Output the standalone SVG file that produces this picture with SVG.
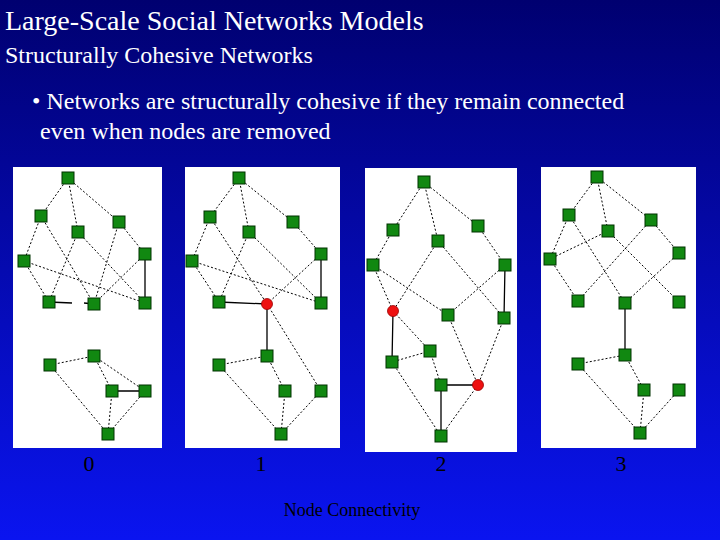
<svg xmlns="http://www.w3.org/2000/svg" width="720" height="540" viewBox="0 0 720 540">
<defs>
<linearGradient id="bg" x1="0" y1="0" x2="0" y2="1"><stop offset="0" stop-color="#000070"/><stop offset="1" stop-color="#0a14f0"/></linearGradient>
<style>
.t{font-family:"Liberation Serif",serif;fill:#fff}
.k{font-family:"Liberation Serif",serif;fill:#000}
.p{fill:#fff}
.d{stroke:#000;stroke-width:1;stroke-dasharray:2,2;fill:none}
.s{stroke:#000;stroke-width:1.3;fill:none}
.n{fill:#118811;stroke:#003300;stroke-width:1}
.r{fill:#ee1111;stroke:#990000;stroke-width:0.8}
</style>
</defs>
<rect width="720" height="540" fill="url(#bg)"/>
<text class="t" x="5" y="30" font-size="28">Large-Scale Social Networks Models</text>
<text class="t" x="5" y="63" font-size="24">Structurally Cohesive Networks</text>
<text class="t" x="32" y="109" font-size="24">• Networks are structurally cohesive if they remain connected</text>
<text class="t" x="40" y="139" font-size="24">even when nodes are removed</text>
<rect class="p" x="13" y="167" width="149" height="281"/>
<rect class="p" x="185" y="167" width="155" height="281"/>
<rect class="p" x="365" y="168" width="152" height="284"/>
<rect class="p" x="541" y="167" width="155" height="281"/>
<g id="connectors">
<path class="d" d="M68 178L41 216M68 178L78 232M68 178L119 222M41 216L24 261M41 216L94 304M78 232L49 302M78 232L145 303M119 222L145 254M119 222L94 304M24 261L49 302M24 261L145 303M145 254L94 304M50 365L94 356M50 365L108 434M94 356L112 391M94 356L145 391M112 391L108 434M145 391L108 434"/>
<path class="s" d="M145 254L145 303M49 302L72 303M84 303L94 304M112 391L145 391"/>
<path class="d" d="M239 178L210 217M239 178L249 232M239 178L293 222M210 217L192 261M210 217L267 304M249 232L219 302M249 232L321 303M293 222L321 254M192 261L219 302M192 261L321 303M321 254L267 304M267 304L321 391M219 365L267 356M219 365L281 434M267 356L285 391M285 391L281 434M321 391L281 434"/>
<path class="s" d="M321 254L321 303M219 302L267 304M267 304L267 356"/>
<path class="d" d="M424 182L393 230M424 182L438 241M424 182L478 226M393 230L373 265M373 265L393 311M373 265L448 315M438 241L393 311M438 241L504 318M478 226L505 265M505 265L448 315M393 311L430 351M430 351L392 362M430 351L441 385M392 362L441 436M448 315L478 385M504 318L478 385M478 385L441 436"/>
<path class="s" d="M505 265L504 318M393 311L392 362M441 385L478 385M441 385L441 436"/>
<path class="d" d="M597 177L569 215M597 177L608 231M597 177L651 220M569 215L550 259M569 215L625 303M608 231L550 259M608 231L679 302M651 220L679 253M651 220L578 301M550 259L578 301M679 253L625 303M578 364L625 355M578 364L640 433M625 355L644 390M644 390L640 433M679 390L640 433"/>
<path class="s" d="M625 303L625 355"/>
</g>
<g id="nodes-0">
<rect class="n" x="62" y="172" width="12" height="12"/><rect class="n" x="35" y="210" width="12" height="12"/><rect class="n" x="72" y="226" width="12" height="12"/><rect class="n" x="113" y="216" width="12" height="12"/><rect class="n" x="18" y="255" width="12" height="12"/><rect class="n" x="139" y="248" width="12" height="12"/><rect class="n" x="43" y="296" width="12" height="12"/><rect class="n" x="88" y="298" width="12" height="12"/><rect class="n" x="139" y="297" width="12" height="12"/>
<rect class="n" x="44" y="359" width="12" height="12"/><rect class="n" x="88" y="350" width="12" height="12"/><rect class="n" x="106" y="385" width="12" height="12"/><rect class="n" x="139" y="385" width="12" height="12"/><rect class="n" x="102" y="428" width="12" height="12"/>
</g>
<g id="nodes-1">
<rect class="n" x="233" y="172" width="12" height="12"/><rect class="n" x="204" y="211" width="12" height="12"/><rect class="n" x="243" y="226" width="12" height="12"/><rect class="n" x="287" y="216" width="12" height="12"/><rect class="n" x="186" y="255" width="12" height="12"/><rect class="n" x="315" y="248" width="12" height="12"/><rect class="n" x="213" y="296" width="12" height="12"/><rect class="n" x="315" y="297" width="12" height="12"/>
<circle class="r" cx="267" cy="304" r="5.5"/>
<rect class="n" x="213" y="359" width="12" height="12"/><rect class="n" x="261" y="350" width="12" height="12"/><rect class="n" x="279" y="385" width="12" height="12"/><rect class="n" x="315" y="385" width="12" height="12"/><rect class="n" x="275" y="428" width="12" height="12"/>
</g>
<g id="nodes-2">
<rect class="n" x="418" y="176" width="12" height="12"/><rect class="n" x="387" y="224" width="12" height="12"/><rect class="n" x="432" y="235" width="12" height="12"/><rect class="n" x="472" y="220" width="12" height="12"/><rect class="n" x="367" y="259" width="12" height="12"/><rect class="n" x="499" y="259" width="12" height="12"/><rect class="n" x="442" y="309" width="12" height="12"/><rect class="n" x="498" y="312" width="12" height="12"/><rect class="n" x="424" y="345" width="12" height="12"/><rect class="n" x="386" y="356" width="12" height="12"/><rect class="n" x="435" y="379" width="12" height="12"/><rect class="n" x="435" y="430" width="12" height="12"/>
<circle class="r" cx="393" cy="311" r="5.5"/><circle class="r" cx="478" cy="385" r="5.5"/>
</g>
<g id="nodes-3">
<rect class="n" x="591" y="171" width="12" height="12"/><rect class="n" x="563" y="209" width="12" height="12"/><rect class="n" x="602" y="225" width="12" height="12"/><rect class="n" x="645" y="214" width="12" height="12"/><rect class="n" x="544" y="253" width="12" height="12"/><rect class="n" x="673" y="247" width="12" height="12"/><rect class="n" x="572" y="295" width="12" height="12"/><rect class="n" x="619" y="297" width="12" height="12"/><rect class="n" x="673" y="296" width="12" height="12"/>
<rect class="n" x="572" y="358" width="12" height="12"/><rect class="n" x="619" y="349" width="12" height="12"/><rect class="n" x="638" y="384" width="12" height="12"/><rect class="n" x="673" y="384" width="12" height="12"/><rect class="n" x="634" y="427" width="12" height="12"/>
</g>
<g font-size="22" text-anchor="middle" class="k">
<text class="k" x="89" y="471">0</text><text class="k" x="261" y="471">1</text><text class="k" x="441" y="471">2</text><text class="k" x="621" y="471">3</text>
</g>
<text class="k" x="352" y="516" font-size="18" text-anchor="middle">Node Connectivity</text>
</svg>
